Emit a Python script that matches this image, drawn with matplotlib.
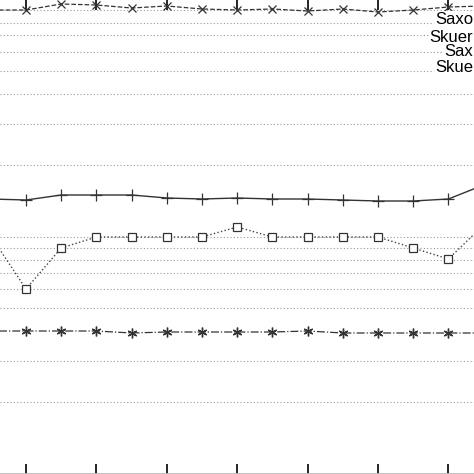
import matplotlib
matplotlib.use("Agg")
import matplotlib.pyplot as plt
import numpy as np

x = np.arange(0, 15)
series_x = [10, 10, 4, 5, 8, 6, 9, 10, 9, 11, 9, 12, 10, 7, 6]
series_plus = [199, 200, 195, 195, 195, 198, 199, 198, 199, 199, 200, 201, 201, 199, 185]
series_sq = [236, 289, 248, 237, 237, 237, 237, 227, 237, 237, 237, 237, 248, 259, 225]
series_ast = [331, 331, 331, 331, 333, 332, 332, 332, 332, 331, 333, 333, 333, 333, 333]
grid_vals = [10, 23, 35, 52, 71, 94, 124, 165, 237, 248, 260, 273, 289, 308, 361, 402]
legend_labels = ["Saxo", "Skuer", "Sax", "Skue"]

fig = plt.figure(figsize=(4.74, 4.74), dpi=100)
ax = fig.add_axes([0, 0, 1, 1])
for g in grid_vals:
    ax.axhline(g, color="#999999", ls=(0, (1, 2)), lw=0.8, zorder=0)
ax.plot(x, series_x, color="#333333", ls="--", lw=0.9, marker="x", ms=6, mew=0.9)
ax.plot(x, series_plus, color="#333333", ls="-", lw=1.0, marker="+", ms=8, mew=0.9)
ax.plot(x, series_sq, color="#444444", ls=":", lw=1.0, marker="s", ms=6, mfc="white", mec="#333333", mew=0.9)
ax.plot(x, series_ast, color="#333333", ls="-.", lw=0.9, marker=(6, 2, 0), ms=7, mew=1.0)

ax.set_xlim(1 - 26 / 35.2, 1 + 448 / 35.2)
ax.set_ylim(474, 0)
ax.set_xticks(np.arange(1, 14, 2))
ax.set_yticks([])
ax.tick_params(axis="x", direction="in", length=7, width=1.2, top=True, labelbottom=False)
for s in ["left", "right"]:
    ax.spines[s].set_visible(False)
ax.spines["bottom"].set_color("#bbbbbb")
ax.spines["bottom"].set_linewidth(2)
ax.spines["top"].set_visible(False)

ys = [19, 37, 52, 68]
for lab, yy in zip(legend_labels, ys):
    fig.text(473 / 474, 1 - yy / 474, lab, fontsize=12, va="center", ha="right",
             family="Liberation Sans", bbox=dict(fc="white", ec="none", pad=0.5))

fig.savefig("out.png", dpi=100)
